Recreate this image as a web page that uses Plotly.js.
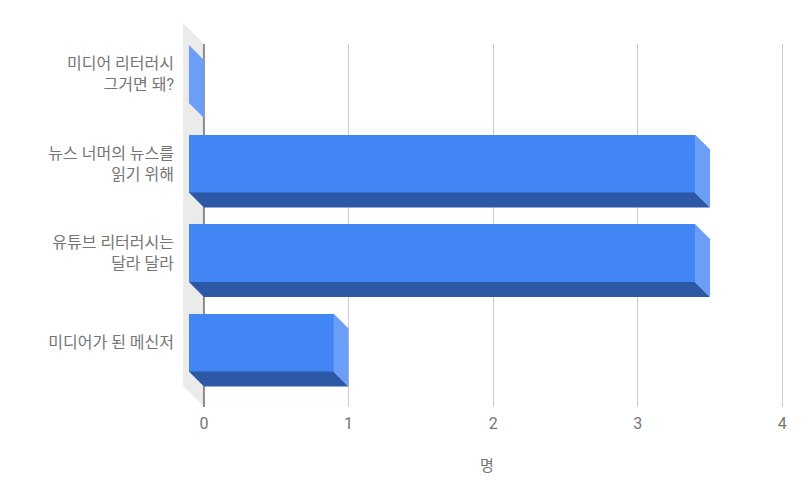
<!DOCTYPE html>
<html>
<head>
<meta charset="utf-8">
<script src="https://cdn.plot.ly/plotly-3.0.1.min.js"></script>
<style>
  html, body { margin: 0; padding: 0; background: #ffffff; }
  #chart { width: 805px; height: 492px; }
</style>
</head>
<body>
<div id="chart"></div>
<script>
// Survey answers per session topic
const categories = [
  '미디어 리터러시<br>그거면 돼?',
  '뉴스 너머의 뉴스를<br>읽기 위해',
  '유튜브 리터러시는<br>달라 달라',
  '미디어가 된 메신저'
];
const counts = [0, 3.5, 3.5, 1];
const xTickValues = [0, 1, 2, 3, 4];
const xTitle = '명';

// Geometry of the pseudo-3D plot box
const W = 805, H = 492;
const margin = { l: 183, r: 14, t: 23, b: 85 };
const xRange = [-0.145, 4.06];
const yRange = [3.72, -0.57];            // reversed: first category on top
const plotW = W - margin.l - margin.r;
const plotH = H - margin.t - margin.b;
const pxPerX = plotW / (xRange[1] - xRange[0]);
const pxPerY = plotH / (yRange[0] - yRange[1]);

const barDepthPx = 15, wallDepthPx = 21, barThickPx = 58;
const dx = barDepthPx / pxPerX;
const dy = barDepthPx / pxPerY;
const half = (barThickPx / pxPerY) / 2;
const wallDx = wallDepthPx / pxPerX;
const wallDy = wallDepthPx / pxPerY;

const positions = categories.map((_, i) => i);

// Side (right) and bottom faces of each bar, as closed polygons
const sideX = [], sideY = [], botX = [], botY = [];
counts.forEach((v, i) => {
  const c = positions[i];
  sideX.push(v - dx, v, v, v - dx, v - dx, null);
  sideY.push(c - half, c - half + dy, c + half + dy, c + half, c - half, null);
  botX.push(-dx, v - dx, v, 0, -dx, null);
  botY.push(c + half, c + half, c + half + dy, c + half + dy, c + half, null);
});

const font = 'Roboto, "Noto Sans CJK KR", sans-serif';
const textColor = '#757575';

const traces = [
  // anchors the gridline subplot (back wall of the box)
  { type: 'scatter', x: [], y: [], xaxis: 'x', yaxis: 'y',
    hoverinfo: 'skip', showlegend: false },
  { type: 'scatter', mode: 'lines', x: botX, y: botY, xaxis: 'x2', yaxis: 'y2',
    fill: 'toself', fillcolor: '#2c58a6', line: { width: 0 },
    hoverinfo: 'skip', showlegend: false },
  { type: 'scatter', mode: 'lines', x: sideX, y: sideY, xaxis: 'x2', yaxis: 'y2',
    fill: 'toself', fillcolor: '#6b9ef6', line: { width: 0 },
    hoverinfo: 'skip', showlegend: false },
  { type: 'bar', orientation: 'h', x: counts, y: positions, base: -dx,
    width: 2 * half, xaxis: 'x2', yaxis: 'y2',
    marker: { color: '#4285f4', line: { width: 0 } },
    hoverinfo: 'x', showlegend: false }
];

const layout = {
  width: W, height: H,
  margin: margin,
  paper_bgcolor: '#ffffff',
  plot_bgcolor: 'rgba(0,0,0,0)',
  showlegend: false,
  font: { family: font, color: textColor },
  xaxis: {
    domain: [0, 1], range: xRange, anchor: 'y',
    tickvals: xTickValues, ticktext: xTickValues.map(String),
    showgrid: true, gridcolor: '#cccccc', gridwidth: 1,
    zeroline: false, showline: false, ticks: '',
    ticklabelstandoff: 5,
    tickfont: { family: font, size: 16, color: textColor },
    title: { text: xTitle, font: { family: font, size: 15, color: textColor }, standoff: 28 },
    fixedrange: true
  },
  yaxis: {
    domain: [0, 1 - wallDepthPx / plotH], range: [0, 1], anchor: 'x',
    visible: false, showgrid: false, zeroline: false, fixedrange: true
  },
  xaxis2: {
    domain: [0, 1], range: xRange, anchor: 'y2',
    visible: false, showgrid: false, zeroline: false, fixedrange: true
  },
  yaxis2: {
    domain: [0, 1], range: yRange, anchor: 'x2',
    tickvals: positions, ticktext: categories,
    showgrid: false, zeroline: false, showline: false, ticks: '',
    ticklabelstandoff: 8,
    tickfont: { family: font, size: 16, color: textColor },
    fixedrange: true
  },
  shapes: [
    {
      // left wall of the box
      type: 'path', xref: 'x2', yref: 'y2', layer: 'below',
      path: 'M' + (-wallDx) + ',' + yRange[1] +
            'L0,' + (yRange[1] + wallDy) +
            'L0,' + yRange[0] +
            'L' + (-wallDx) + ',' + (yRange[0] - wallDy) + 'Z',
      fillcolor: '#ebebeb', line: { width: 0 }
    },
    {
      // baseline at x = 0 along the back wall
      type: 'line', xref: 'x2', yref: 'y2', layer: 'below',
      x0: 0, x1: 0, y0: yRange[1] + wallDy, y1: yRange[0],
      line: { color: '#4a4a4a', width: 1.2 }
    }
  ],
  bargap: 0
};

Plotly.newPlot('chart', traces, layout, { displayModeBar: false });
</script>
</body>
</html>
